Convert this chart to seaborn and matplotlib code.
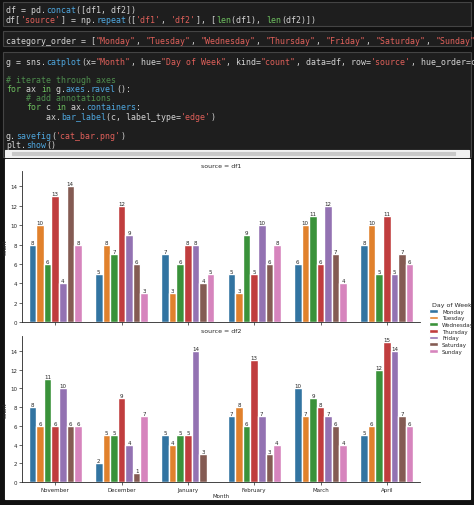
import matplotlib
matplotlib.use("Agg")
import matplotlib.pyplot as plt
import seaborn as sns
import pandas as pd
from matplotlib.patches import Rectangle

months = ["November", "December", "January", "February", "March", "April"]
days = ["Monday", "Tuesday", "Wednesday", "Thursday", "Friday", "Saturday", "Sunday"]
df1_counts = {
    "November": [8, 10, 6, 13, 4, 14, 8],
    "December": [5, 8, 7, 12, 9, 6, 3],
    "January": [7, 3, 6, 8, 8, 4, 5],
    "February": [5, 3, 9, 5, 10, 6, 8],
    "March": [6, 10, 11, 6, 12, 7, 4],
    "April": [8, 10, 5, 11, 5, 7, 6],
}
df2_counts = {
    "November": [8, 6, 11, 6, 10, 6, 6],
    "December": [2, 5, 5, 9, 4, 1, 7],
    "January": [5, 4, 5, 5, 14, 3, None],
    "February": [7, 8, 6, 13, 7, 3, 4],
    "March": [10, 7, 9, 8, 7, 6, 4],
    "April": [5, 6, 12, 15, 14, 7, 6],
}

def long(d):
    rows = []
    for m in months:
        for day, v in zip(days, d[m]):
            if v is not None:
                rows.append({"Month": m, "Day of Week": day, "count": v})
    return pd.DataFrame(rows)

sns.set_style("ticks")
W, H = 474, 506
fig = plt.figure(figsize=(W / 100, H / 100), dpi=100)
fig.patch.set_facecolor("#111111")
bg = fig.add_axes([0, 0, 1, 1], zorder=-5)
bg.set_xlim(0, W)
bg.set_ylim(H, 0)
bg.axis("off")

def box(x0, y0, x1, y1, fc, ec="#444444"):
    bg.add_patch(Rectangle((x0, y0), x1 - x0, y1 - y0, fc=fc, ec=ec, lw=0.8))

box(3, 3, 471, 27, "#1e1e1e")
box(3, 32, 471, 47, "#1e1e1e")
box(3, 53, 471, 158, "#1e1e1e")
box(5, 151, 469, 158, "#f0f0f0", ec="#f0f0f0")
box(12, 153, 455, 156, "#c8c8c8", ec="#c8c8c8")
box(5, 160, 470, 500, "white", ec="white")

T, S, F, C, K = "#d4d4d4", "#e0605a", "#4fa8e0", "#4f8f4f", "#6dbf5f"
code = [
    (10, [("df = pd.", T), ("concat", F), ("([df1, df2])", T)]),
    (20, [("df[", T), ("'source'", S), ("] = np.", T), ("repeat", F), ("([", T), ("'df1'", S), (", ", T),
          ("'df2'", S), ("], [", T), ("len", K), ("(df1), ", T), ("len", K), ("(df2)])", T)]),
    (41, [("category_order = [", T), ('"Monday"', S), (", ", T), ('"Tuesday"', S), (", ", T),
          ('"Wednesday"', S), (", ", T), ('"Thursday"', S), (", ", T), ('"Friday"', S), (", ", T),
          ('"Saturday"', S), (", ", T), ('"Sunday"', S), ("]", T)]),
    (62, [("g = sns.", T), ("catplot", F), ("(x=", T), ('"Month"', S), (", hue=", T), ('"Day of Week"', S),
          (", kind=", T), ('"count"', S), (", data=df, row=", T), ("'source'", S),
          (", hue_order=category_order, aspect=20/8", T)]),
    (80, [("# iterate through axes", C)]),
    (89, [("for", K), (" ax ", T), ("in", K), (" g.", T), ("axes", F), (".", T), ("ravel", F), ("():", T)]),
    (98, [("    # add annotations", C)]),
    (107, [("    ", T), ("for", K), (" c ", T), ("in", K), (" ax.", T), ("containers", F), (":", T)]),
    (117, [("        ax.", T), ("bar_label", F), ("(c, label_type=", T), ("'edge'", S), (")", T)]),
    (136, [("g.", T), ("savefig", F), ("(", T), ("'cat_bar.png'", S), (")", T)]),
    (145, [("plt.", T), ("show", F), ("()", T)]),
]
fs = 5.95
for y, toks in code:
    prev = None
    for txt, col in toks:
        if prev is None:
            prev = bg.text(6, y, txt, color=col, fontsize=fs, family="DejaVu Sans Mono",
                           va="center", ha="left")
        else:
            prev = bg.annotate(txt, xy=(1, 0), xycoords=prev, va="bottom", ha="left",
                               color=col, fontsize=fs, family="DejaVu Sans Mono")

ax1 = fig.add_axes([22 / W, 1 - 323 / H, 398 / W, 151 / H])
ax2 = fig.add_axes([22 / W, 1 - 483 / H, 398 / W, 146 / H])
for ax, d, title in [(ax1, df1_counts, "source = df1"), (ax2, df2_counts, "source = df2")]:
    sns.barplot(data=long(d), x="Month", y="count", hue="Day of Week", order=months,
                hue_order=days, ax=ax, errorbar=None)
    for c in ax.containers:
        ax.bar_label(c, label_type="edge", fontsize=4, padding=0)
    ax.set_title(title, fontsize=4.5, pad=3)
    ax.set_ylim(0, 15.6)
    ax.set_ylabel("count", fontsize=4, labelpad=2)
    ax.tick_params(labelsize=4, length=2, width=0.5, pad=1.5)
    for s in ax.spines.values():
        s.set_linewidth(0.6)
    sns.despine(ax=ax)
handles, labels = ax1.get_legend_handles_labels()
ax1.get_legend().remove()
ax2.get_legend().remove()
ax1.set_xlabel("")
ax1.set_xticklabels([])
ax2.set_xlabel("Month", fontsize=4, labelpad=1)
fig.legend(handles, labels, title="Day of Week", loc="center left", bbox_to_anchor=(0.895, 0.35),
           frameon=False, fontsize=4, title_fontsize=4.5, handlelength=1.5, labelspacing=0.3)
fig.savefig("out.png", dpi=100, facecolor=fig.get_facecolor())
